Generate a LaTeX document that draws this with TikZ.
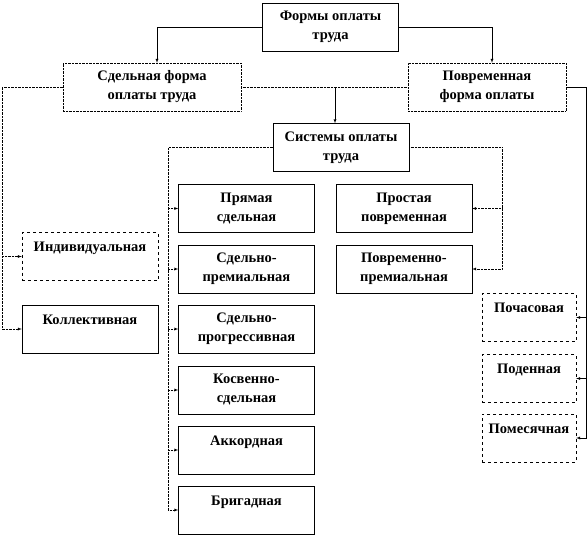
\documentclass[tikz,border=0pt]{standalone}
\usepackage{fontspec}
\setmainfont{Liberation Serif}
\usepackage{tikz}
\tikzset{blk/.style={draw, thin, fill=white, inner sep=0pt, align=center,
  minimum width=136pt, minimum height=48pt, font=\fontsize{14.5}{19}\selectfont\bfseries},
  blkdot/.style={blk, densely dotted},
  blkdash/.style={blk, dashed},
  link/.style={thin, -latex},
  dlink/.style={thin, densely dotted, -latex}}

\begin{document}
\begin{tikzpicture}[x=1pt, y=-1pt]
	\useasboundingbox (0,0) rectangle (588,538);
	\node[blk] (forms) at (330.5,27) {Формы оплаты\\труда};
	\node[blkdot, minimum width=178pt] (sdel) at (152,87) {Сдельная форма\\оплаты труда};
	\node[blkdot, minimum width=158pt] (povr) at (487,87) {Повременная\\форма оплаты};
	\node[blk] (sys) at (341,147.5) {Системы оплаты\\труда};
	
	\node[blk] (pryam) at (246.5,208.5) {Прямая\\сдельная};
	\node[blk] (sprem) at (246.5,269) {Сдельно-\\премиальная};
	\node[blk] (sprog) at (246.5,329) {Сдельно-\\прогрессивная};
	\node[blk] (kosv) at (246.5,390) {Косвенно-\\сдельная};
	\node[blk] (akk) at (246.5,450) {Аккордная\\\mbox{}};
	\node[blk] (brig) at (246.5,510) {Бригадная\\\mbox{}};
	
	\node[blkdash] (ind) at (90,256.5) {Индивидуальная\\\mbox{}};
	\node[blk] (koll) at (90,329) {Коллективная\\\mbox{}};
	
	\node[blk] (prost) at (404,208.5) {Простая\\повременная};
	\node[blk] (pprem) at (404,269) {Повременно-\\премиальная};
	
	\node[blkdash, minimum width=94pt] (chas) at (529,317.5) {Почасовая\\\mbox{}};
	\node[blkdash, minimum width=94pt] (den) at (529,378.5) {Поденная\\\mbox{}};
	\node[blkdash, minimum width=94pt] (mes) at (529,438) {Помесячная\\\mbox{}};
	
	\coordinate (mid) at (335,87);
	\coordinate (lbus) at (2,87);
	\coordinate (sbus) at (168,147.5);
	\coordinate (pbus) at (502,147.5);
	\coordinate (rbus) at (586,87);
	
	\draw[link] (forms.west) -| ([xshift=5pt]sdel.north);
	\draw[link] (forms.east) -| ([xshift=5pt]povr.north);
	\draw[densely dotted] (sdel.east) -- (povr.west);
	\draw[link] (mid) -- (mid |- sys.north);
	
	\draw[dlink] (sdel.west) -- (lbus) |- (koll.west);
	\draw[dlink] (lbus |- ind.west) -- (ind.west);
	
	\draw[dlink] (sys.west) -- (sbus) |- (brig.west);
	\foreach \n in {pryam, sprem, sprog, kosv, akk}
		\draw[dlink] (sbus |- \n.west) -- (\n.west);
	
	\draw[dlink] (sys.east) -- (pbus) |- (pprem.east);
	\draw[dlink] (pbus |- prost.east) -- (prost.east);
	
	\draw[link] (povr.east) -- (rbus) |- (mes.east);
	\foreach \n in {chas, den}
		\draw[link] (rbus |- \n.east) -- (\n.east);
\end{tikzpicture}
\end{document}
